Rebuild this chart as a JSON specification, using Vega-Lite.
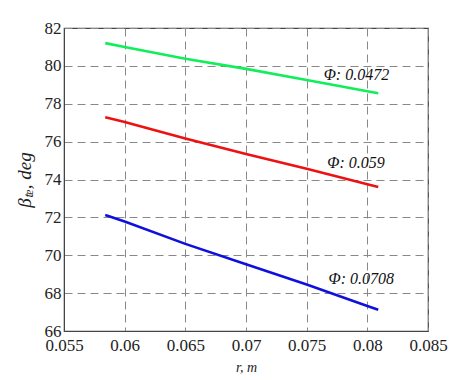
{
  "$schema": "https://vega.github.io/schema/vega-lite/v6.json",
  "width": 364,
  "height": 303,
  "autosize": {"type": "none"},
  "padding": {"left": 64, "top": 28, "right": 46, "bottom": 49},
  "background": "white",
  "config": {
    "view": {"stroke": "#444", "strokeWidth": 1.2},
    "font": "Liberation Serif, Times New Roman, serif"
  },
  "datasets": {
    "lines": [
      {"r": 0.0584, "beta": 81.2, "phi": "0.0472"},
      {"r": 0.06, "beta": 81.0, "phi": "0.0472"},
      {"r": 0.065, "beta": 80.38, "phi": "0.0472"},
      {"r": 0.07, "beta": 79.84, "phi": "0.0472"},
      {"r": 0.075, "beta": 79.25, "phi": "0.0472"},
      {"r": 0.08, "beta": 78.66, "phi": "0.0472"},
      {"r": 0.0809, "beta": 78.55, "phi": "0.0472"},
      {"r": 0.0584, "beta": 77.29, "phi": "0.059"},
      {"r": 0.06, "beta": 77.04, "phi": "0.059"},
      {"r": 0.065, "beta": 76.16, "phi": "0.059"},
      {"r": 0.07, "beta": 75.35, "phi": "0.059"},
      {"r": 0.075, "beta": 74.57, "phi": "0.059"},
      {"r": 0.08, "beta": 73.75, "phi": "0.059"},
      {"r": 0.0809, "beta": 73.6, "phi": "0.059"},
      {"r": 0.0584, "beta": 72.13, "phi": "0.0708"},
      {"r": 0.06, "beta": 71.78, "phi": "0.0708"},
      {"r": 0.065, "beta": 70.6, "phi": "0.0708"},
      {"r": 0.07, "beta": 69.52, "phi": "0.0708"},
      {"r": 0.075, "beta": 68.45, "phi": "0.0708"},
      {"r": 0.08, "beta": 67.32, "phi": "0.0708"},
      {"r": 0.0809, "beta": 67.12, "phi": "0.0708"}
    ],
    "labels": [
      {"r": 0.0764, "beta": 79.52, "text": "Φ: 0.0472"},
      {"r": 0.0767, "beta": 74.88, "text": "Φ: 0.059"},
      {"r": 0.0768, "beta": 68.74, "text": "Φ: 0.0708"}
    ]
  },
  "encoding": {
    "x": {
      "field": "r", "type": "quantitative",
      "scale": {"domain": [0.055, 0.085], "nice": false, "zero": false},
      "axis": {
        "values": [0.055, 0.06, 0.065, 0.07, 0.075, 0.08, 0.085],
        "format": "~g",
        "title": "r, m",
        "titleFont": "Liberation Serif, Times New Roman, serif", "titleFontStyle": "italic", "titleFontWeight": "normal",
        "titleFontSize": 14, "titleColor": "#222", "titlePadding": 7,
        "labelFont": "Liberation Serif, Times New Roman, serif", "labelFontSize": 17, "labelColor": "#222",
        "labelPadding": 6, "tickSize": 0, "labelOverlap": false, "labelFlush": false,
        "domainColor": "#444",
        "grid": true, "gridColor": "#888", "gridDash": [8, 5], "gridWidth": 1
      }
    },
    "y": {
      "field": "beta", "type": "quantitative",
      "scale": {"domain": [66, 82], "nice": false, "zero": false},
      "axis": {
        "values": [66, 68, 70, 72, 74, 76, 78, 80, 82],
        "title": "βₜₑ, deg",
        "titleFont": "Liberation Serif, Times New Roman, serif", "titleFontStyle": "italic", "titleFontWeight": "normal",
        "titleFontSize": 19, "titleColor": "#222", "titlePadding": 10,
        "labelFont": "Liberation Serif, Times New Roman, serif", "labelFontSize": 17, "labelColor": "#222",
        "labelPadding": 3, "tickSize": 0, "labelOverlap": false, "labelFlush": false,
        "domainColor": "#444",
        "grid": true, "gridColor": "#888", "gridDash": [8, 5], "gridWidth": 1
      }
    }
  },
  "layer": [
    {
      "data": {"name": "lines"},
      "mark": {"type": "line", "strokeWidth": 2.6},
      "encoding": {
        "color": {
          "field": "phi", "type": "nominal",
          "scale": {"domain": ["0.0472", "0.059", "0.0708"], "range": ["#10ee5a", "#ee1111", "#1010dd"]},
          "legend": null
        }
      }
    },
    {
      "data": {"name": "labels"},
      "mark": {"type": "text", "align": "left", "baseline": "middle", "font": "Liberation Serif, Times New Roman, serif", "fontStyle": "italic", "fontSize": 16, "color": "#111"},
      "encoding": {
        "text": {"field": "text"}
      }
    }
  ]
}
